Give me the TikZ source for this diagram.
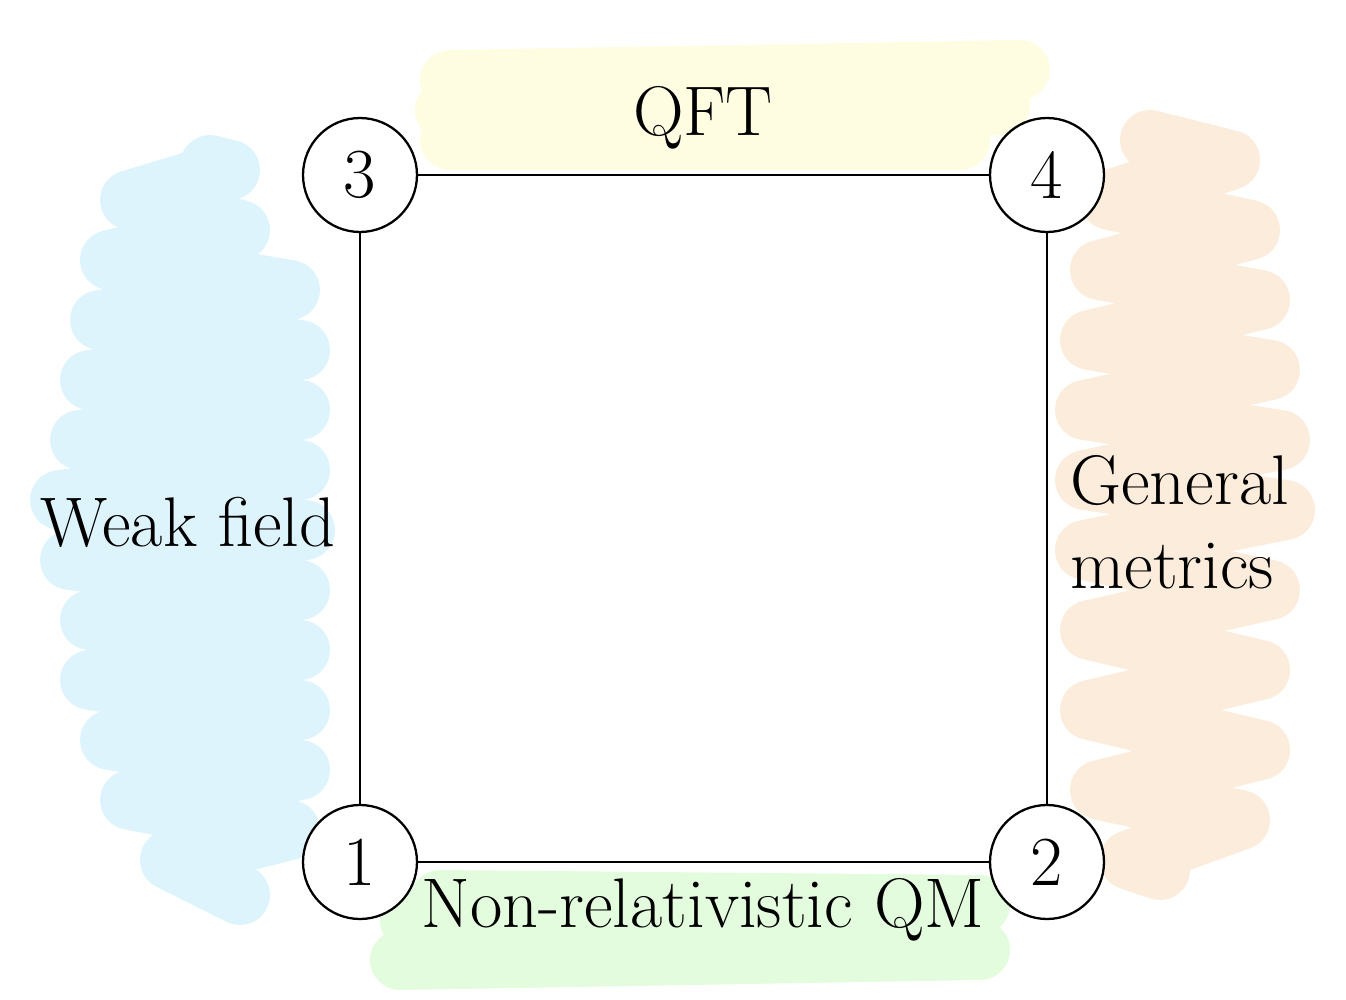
\documentclass[tikz,border=0pt]{standalone}
\begin{document}
\begin{tikzpicture}[x=0.02cm,y=-0.02cm,
  blob/.style={line width=1.2cm,line cap=round,line join=round},
  vtx/.style={circle,draw,line width=1.3pt,fill=white,minimum size=2.28cm,inner sep=0pt,font=\fontsize{40}{48}\selectfont},
  lbl/.style={font=\fontsize{40}{48}\selectfont},
  edge/.style={line width=1.3pt}]
\useasboundingbox (0,0) rectangle (1346,1000);
\definecolor{bblue}{RGB}{222,244,252}
\definecolor{byel}{RGB}{254,253,225}
\definecolor{bgreen}{RGB}{228,252,222}
\definecolor{borange}{RGB}{252,236,220}
% blue blob
\draw[blob,bblue] (210,165) -- (230,170) -- (130,200) -- (240,230) -- (110,260) -- (290,290) -- (100,320) -- (300,350) -- (90,380) -- (300,410) -- (80,440) -- (300,470) -- (60,500) -- (305,530) -- (70,560) -- (300,590) -- (90,620) -- (300,650) -- (90,680) -- (300,710) -- (110,740) -- (300,770) -- (130,800) -- (290,830) -- (170,860) -- (240,895);
% yellow blob
\draw[blob,byel] (450,80) -- (1020,70) -- (445,110) -- (1000,105) -- (450,140) -- (960,140);
% green blob
\draw[blob,bgreen] (400,960) -- (980,950) -- (410,920) -- (980,905) -- (440,900);
% orange blob
\draw[blob,borange] (1150,140) -- (1230,160) -- (1110,200) -- (1250,230) -- (1100,270) -- (1260,300) -- (1090,340) -- (1270,370) -- (1085,410) -- (1280,440) -- (1085,480) -- (1285,510) -- (1085,550) -- (1270,590) -- (1090,630) -- (1260,670) -- (1090,710) -- (1260,750) -- (1100,790) -- (1240,820) -- (1130,860) -- (1160,870);
% nodes
\node[vtx] (n3) at (360,175) {3};
\node[vtx] (n4) at (1047,175) {4};
\node[vtx] (n1) at (360,862) {1};
\node[vtx] (n2) at (1047,862) {2};
\draw[edge] (n3) -- (n4);
\draw[edge] (n4) -- (n2);
\draw[edge] (n2) -- (n1);
\draw[edge] (n1) -- (n3);
\node[lbl] (qft) at (703,118) {QFT};
\node[lbl] (wf) at (188,522) {Weak field};
\node[lbl,align=left,anchor=west] (gm) at (1064,522) {General\\metrics};
\node[lbl] (nr) at (703,910) {Non-relativistic QM};
\end{tikzpicture}
\end{document}
